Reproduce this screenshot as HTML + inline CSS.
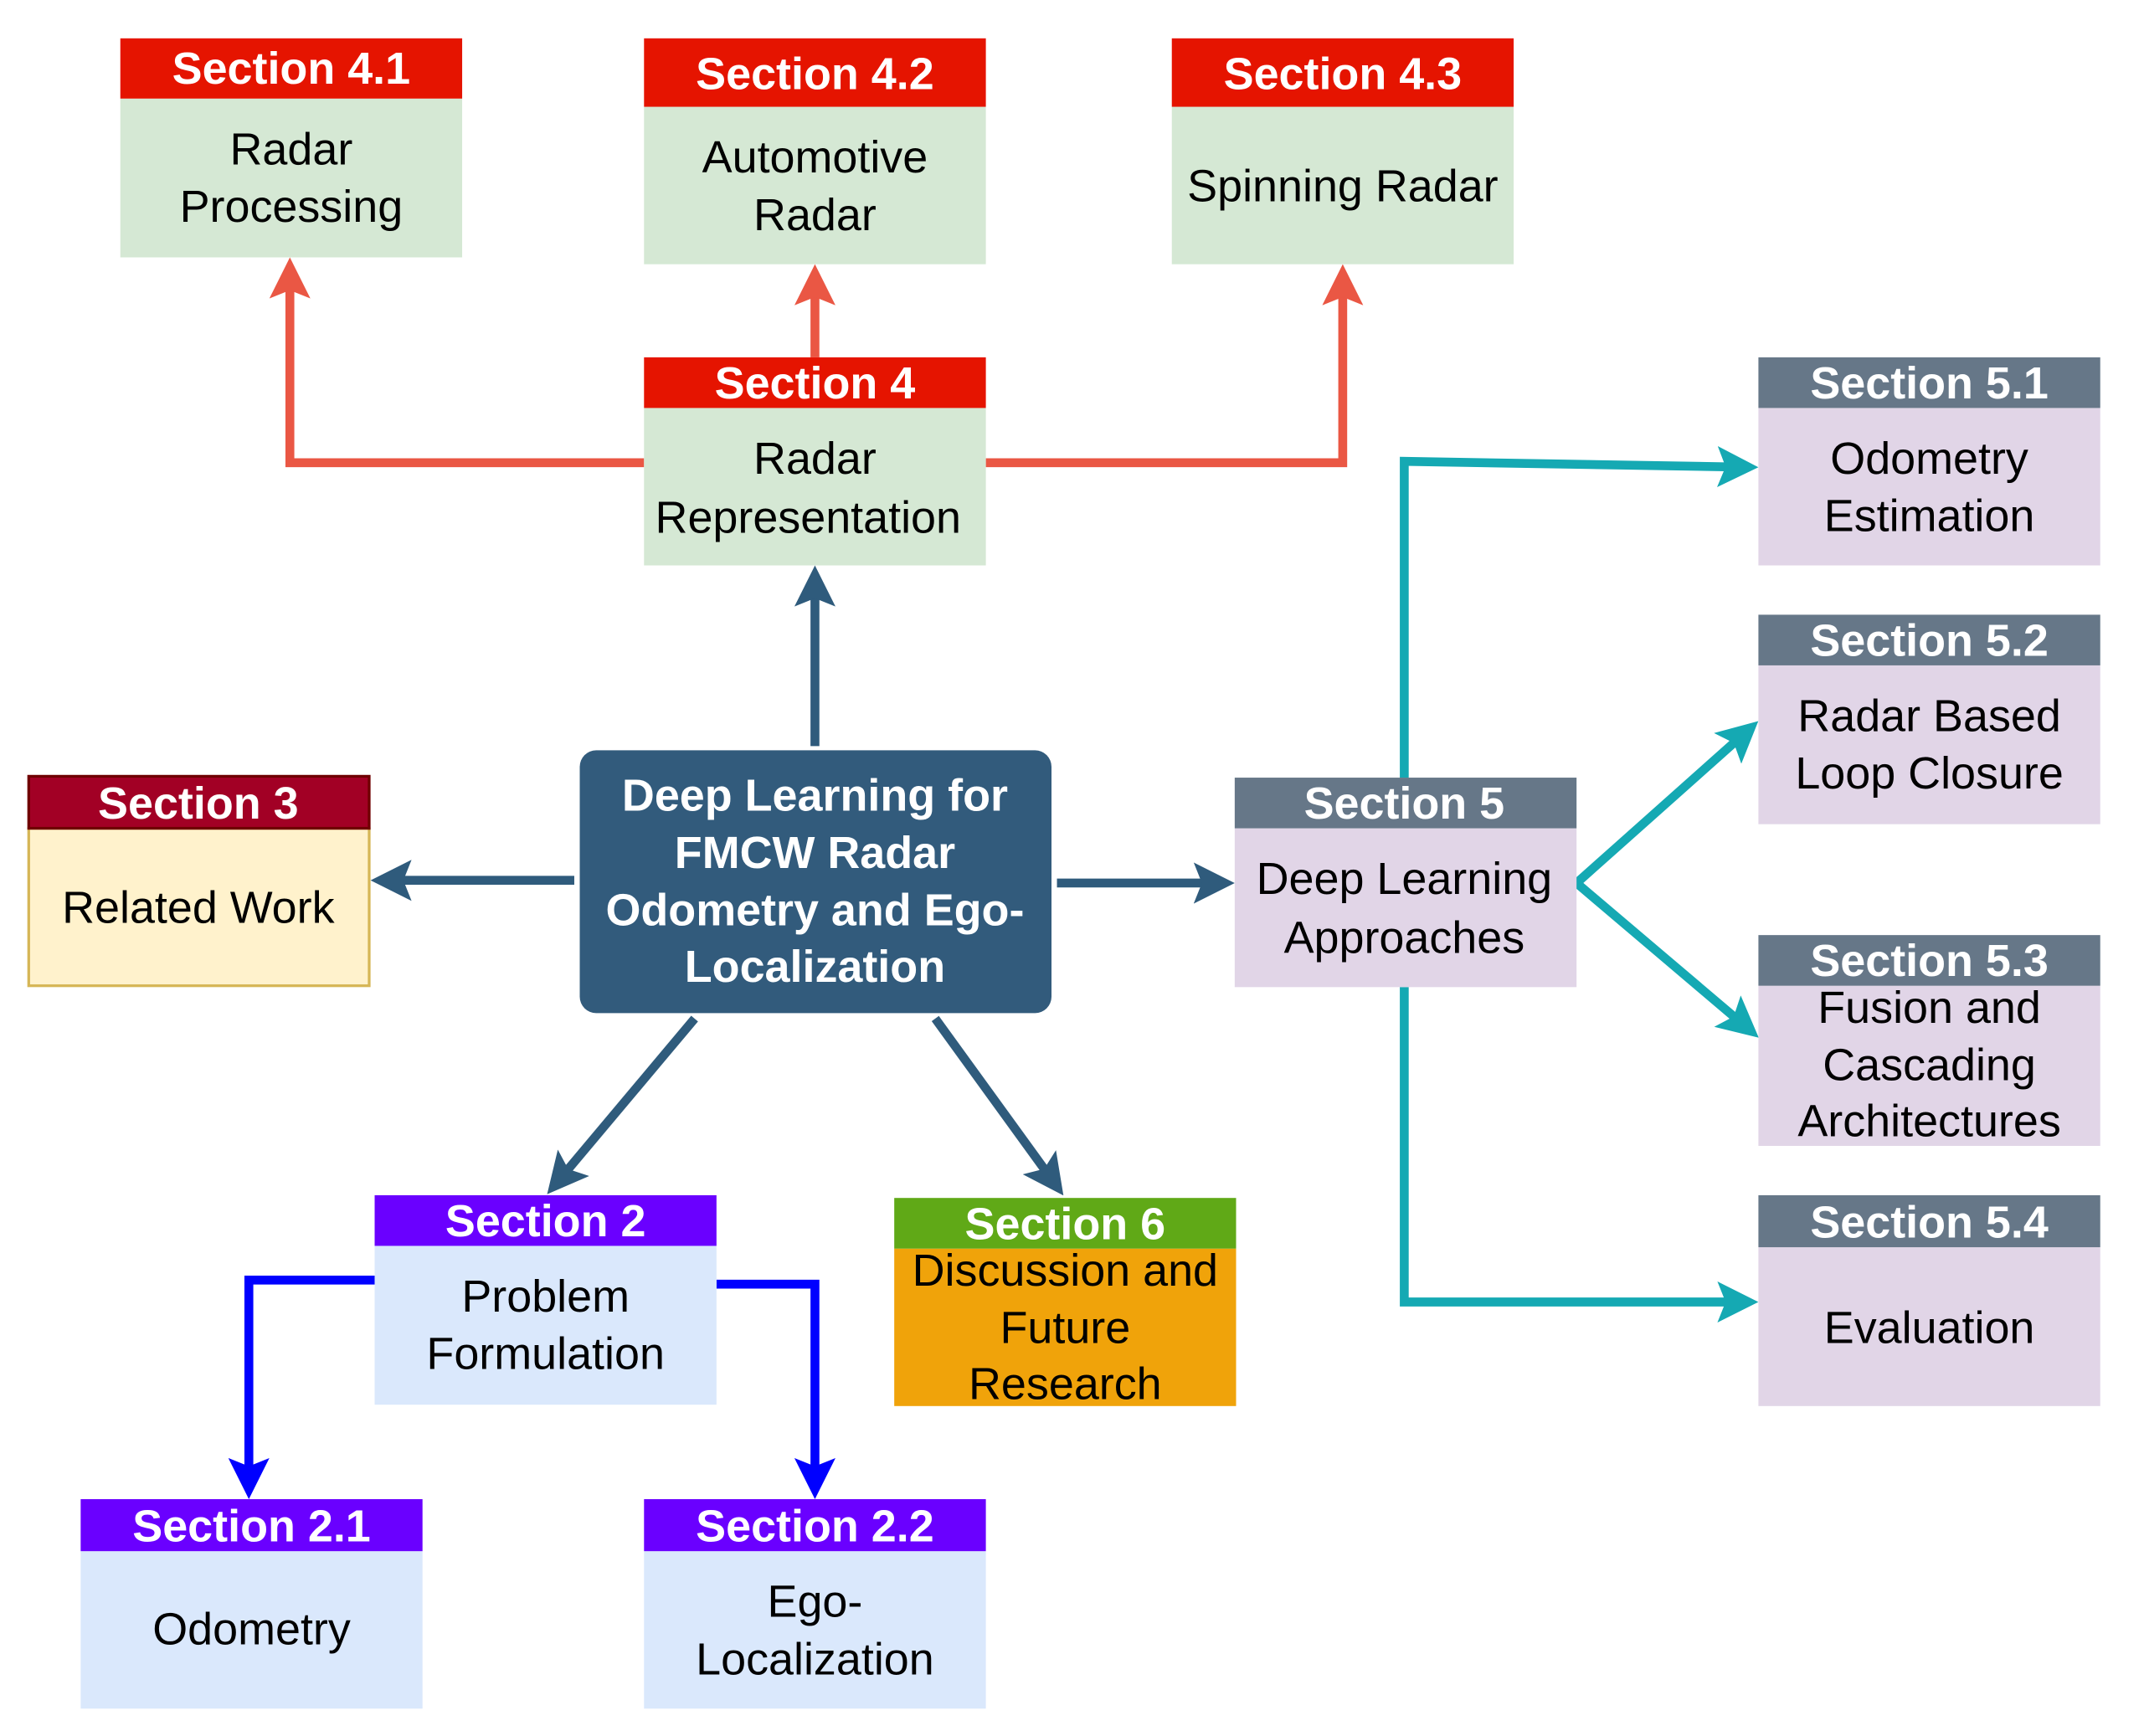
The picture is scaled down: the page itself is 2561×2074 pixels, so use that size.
<!DOCTYPE html>
<html><head><meta charset="utf-8"><style>html,body{margin:0;padding:0;background:#fff}svg{display:block}</style></head>
<body>
<svg width="2561" height="2074" viewBox="0 0 1568 1268" preserveAspectRatio="none" xmlns="http://www.w3.org/2000/svg" font-family="Liberation Sans, Arial, sans-serif">
<defs>
<marker id="mr" viewBox="0 0 30 30" refX="10" refY="15" markerWidth="30" markerHeight="30" markerUnits="userSpaceOnUse" orient="auto"><path d="M0,0 L30,15 L0,30 L6,15 Z" fill="#ea5744"/></marker>
<marker id="md" viewBox="0 0 30 30" refX="10" refY="15" markerWidth="30" markerHeight="30" markerUnits="userSpaceOnUse" orient="auto"><path d="M0,0 L30,15 L0,30 L6,15 Z" fill="#2f5b7c"/></marker>
<marker id="mb" viewBox="0 0 30 30" refX="10" refY="15" markerWidth="30" markerHeight="30" markerUnits="userSpaceOnUse" orient="auto"><path d="M0,0 L30,15 L0,30 L6,15 Z" fill="#0000ff"/></marker>
<marker id="mt" viewBox="0 0 30 30" refX="10" refY="15" markerWidth="30" markerHeight="30" markerUnits="userSpaceOnUse" orient="auto"><path d="M0,0 L30,15 L0,30 L6,15 Z" fill="#15a9b3"/></marker>
</defs>
<g fill="none" stroke-width="6.5">
<path d="M471,338 L212,338 L212,208" stroke="#ea5744" marker-end="url(#mr)"/>
<path d="M596,261 L596,213" stroke="#ea5744" marker-end="url(#mr)"/>
<path d="M721,338 L982,338 L982,213" stroke="#ea5744" marker-end="url(#mr)"/>
<path d="M596,545 L596,433" stroke="#2f5b7c" marker-end="url(#md)"/>
<path d="M420,643 L291,643" stroke="#2f5b7c" marker-end="url(#md)"/>
<path d="M773,645 L883,645" stroke="#2f5b7c" marker-end="url(#md)"/>
<path d="M508,744 L413,857" stroke="#2f5b7c" marker-end="url(#md)"/>
<path d="M684,744 L766,857" stroke="#2f5b7c" marker-end="url(#md)"/>
<path d="M274,935 L182,935 L182,1075" stroke="#0000ff" marker-end="url(#mb)"/>
<path d="M524,938 L596,938 L596,1075" stroke="#0000ff" marker-end="url(#mb)"/>
<path d="M1027,568 L1027,337 L1266,341" stroke="#15a9b3" marker-end="url(#mt)"/>
<path d="M1153,645 L1271,540" stroke="#15a9b3" marker-end="url(#mt)"/>
<path d="M1153,645 L1271,745" stroke="#15a9b3" marker-end="url(#mt)"/>
<path d="M1027,721 L1027,951 L1266,951" stroke="#15a9b3" marker-end="url(#mt)"/>
</g>

<g>
<rect x="88" y="72" width="250" height="116" fill="#d5e8d4"/><rect x="88" y="28" width="250" height="44" fill="#e51400"/>
<rect x="471" y="78" width="250" height="115" fill="#d5e8d4"/><rect x="471" y="28" width="250" height="50" fill="#e51400"/>
<rect x="857" y="78" width="250" height="115" fill="#d5e8d4"/><rect x="857" y="28" width="250" height="50" fill="#e51400"/>
<rect x="471" y="298" width="250" height="115" fill="#d5e8d4"/><rect x="471" y="261" width="250" height="37" fill="#e51400"/>
<rect x="21" y="605" width="249" height="115" fill="#fff2cc" stroke="#d6b656" stroke-width="2"/><rect x="21" y="567" width="249" height="38" fill="#a20025" stroke="#6f0000" stroke-width="2"/>
<rect x="424" y="548" width="345" height="192" rx="12" fill="#325b7c"/>
<rect x="903" y="605" width="250" height="116" fill="#e1d5e7"/><rect x="903" y="568" width="250" height="37" fill="#667788"/>
<rect x="1286" y="298" width="250" height="115" fill="#e1d5e7"/><rect x="1286" y="261" width="250" height="37" fill="#667788"/>
<rect x="1286" y="486" width="250" height="116" fill="#e1d5e7"/><rect x="1286" y="449" width="250" height="37" fill="#667788"/>
<rect x="1286" y="720" width="250" height="117" fill="#e1d5e7"/><rect x="1286" y="683" width="250" height="37" fill="#667788"/>
<rect x="1286" y="911" width="250" height="116" fill="#e1d5e7"/><rect x="1286" y="873" width="250" height="38" fill="#667788"/>
<rect x="274" y="910" width="250" height="116" fill="#dae8fc"/><rect x="274" y="873" width="250" height="37" fill="#6a00ff"/>
<rect x="654" y="912" width="250" height="115" fill="#f0a30a"/><rect x="654" y="875" width="250" height="37" fill="#60a917"/>
<rect x="59" y="1133" width="250" height="115" fill="#dae8fc"/><rect x="59" y="1095" width="250" height="38" fill="#6a00ff"/>
<rect x="471" y="1133" width="250" height="115" fill="#dae8fc"/><rect x="471" y="1095" width="250" height="38" fill="#6a00ff"/>
</g>

<g fill="#fff" font-weight="bold" font-size="33" text-anchor="middle">
<text x="213" y="61">Section 4.1</text>
<text x="596" y="65">Section 4.2</text>
<text x="982" y="65">Section 4.3</text>
<text x="596" y="291">Section 4</text>
<text x="145" y="598">Section 3</text>
<text x="1027" y="598">Section 5</text>
<text x="1411" y="291">Section 5.1</text>
<text x="1411" y="479">Section 5.2</text>
<text x="1411" y="713">Section 5.3</text>
<text x="1411" y="904">Section 5.4</text>
<text x="399" y="903">Section 2</text>
<text x="779" y="905">Section 6</text>
<text x="184" y="1126">Section 2.1</text>
<text x="596" y="1126">Section 2.2</text>
<text x="596" y="592">Deep Learning for</text>
<text x="596" y="634">FMCW Radar</text>
<text x="596" y="676">Odometry and Ego-</text>
<text x="596" y="717">Localization</text>
</g>

<g fill="#000" font-size="33" text-anchor="middle">
<text x="213" y="120">Radar</text><text x="213" y="162">Processing</text>
<text x="596" y="126">Automotive</text><text x="596" y="168">Radar</text>
<text x="982" y="147">Spinning Radar</text>
<text x="596" y="346">Radar</text><text x="591" y="389">Representation</text>
<text x="145" y="674">Related Work</text>
<text x="1027" y="653">Deep Learning</text><text x="1027" y="696">Approaches</text>
<text x="1411" y="346">Odometry</text><text x="1411" y="388">Estimation</text>
<text x="1411" y="534">Radar Based</text><text x="1411" y="576">Loop Closure</text>
<text x="1411" y="747">Fusion and</text><text x="1411" y="789">Cascading</text><text x="1411" y="830">Architectures</text>
<text x="1411" y="981">Evaluation</text>
<text x="399" y="958">Problem</text><text x="399" y="1000">Formulation</text>
<text x="779" y="939">Discussion and</text><text x="779" y="981">Future</text><text x="779" y="1022">Research</text>
<text x="184" y="1201">Odometry</text>
<text x="596" y="1181">Ego-</text><text x="596" y="1223">Localization</text>
</g>
</svg>
</body></html>
